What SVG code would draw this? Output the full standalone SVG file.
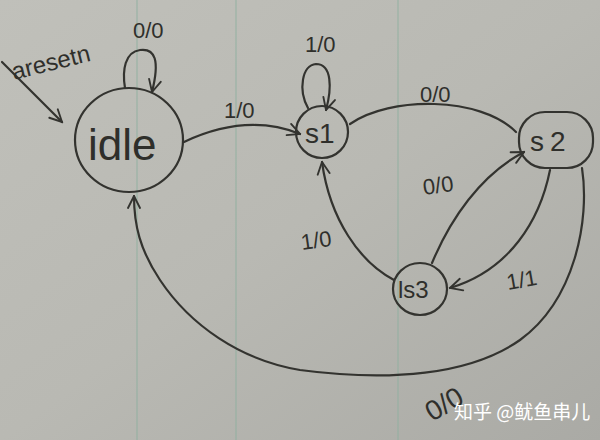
<svg xmlns="http://www.w3.org/2000/svg" width="600" height="440" viewBox="0 0 600 440">
<defs>
<linearGradient id="paper" x1="0" y1="0" x2="1" y2="1">
<stop offset="0" stop-color="#c0c0ba"/>
<stop offset="0.5" stop-color="#b9b9b3"/>
<stop offset="1" stop-color="#aaaaa5"/>
</linearGradient>
<marker id="arr" viewBox="0 0 20 20" refX="18" refY="10" markerWidth="15" markerHeight="15" markerUnits="userSpaceOnUse" orient="auto">
<path d="M2,2 L18,10 L2,18" fill="none" stroke="#33332f" stroke-width="2.5" stroke-linecap="round"/>
</marker>
<style>
.s{fill:none;stroke:#33332f;stroke-width:2.2;stroke-linecap:round;stroke-linejoin:round}
.t{font-family:"Liberation Sans","DejaVu Sans",sans-serif;fill:#2f2f2b}
.rule{stroke:#8fb0a0;stroke-width:2;opacity:0.45}
</style>
</defs>
<rect width="600" height="440" fill="url(#paper)"/>
<line class="rule" x1="137" y1="0" x2="137" y2="440"/>
<line class="rule" x1="236" y1="0" x2="236" y2="440" opacity="0.3"/>
<line class="rule" x1="398" y1="0" x2="398" y2="440" opacity="0.25"/>

<g id="connectors">
<!-- reset arrow -->
<path class="s" d="M2,62 Q30,90 62,122" marker-end="url(#arr)"/>
<text class="t" x="14" y="80" font-size="24" transform="rotate(-14 14 80)">aresetn</text>
<!-- idle self loop -->
<path class="s" d="M125,88 C122,70 125,52 140,50 C155,48 160,60 152,92" marker-end="url(#arr)"/>
<text class="t" x="133" y="38" font-size="22">0/0</text>
<!-- idle -> s1 -->
<path class="s" d="M184,142 C220,125 260,118 300,134" marker-end="url(#arr)"/>
<text class="t" x="224" y="118" font-size="22">1/0</text>
<!-- s1 self loop -->
<path class="s" d="M308,108 C298,90 302,65 316,64 C332,64 332,88 326,110" marker-end="url(#arr)"/>
<text class="t" x="305" y="52" font-size="22">1/0</text>
<!-- s1 -> s2 -->
<path class="s" d="M350,124 C390,96 480,96 516,132"/>
<text class="t" x="420" y="102" font-size="22">0/0</text>
<!-- s3 -> s2 -->
<path class="s" d="M432,263 C450,220 480,175 524,152" marker-end="url(#arr)"/>
<text class="t" x="424" y="195" font-size="22" transform="rotate(-8 424 195)">0/0</text>
<!-- s2 -> s3 -->
<path class="s" d="M550,170 C540,220 510,270 450,288" marker-end="url(#arr)"/>
<text class="t" x="508" y="290" font-size="22" transform="rotate(-10 508 290)">1/1</text>
<!-- s3 -> s1 -->
<path class="s" d="M394,280 C360,262 330,220 322,162" marker-end="url(#arr)"/>
<text class="t" x="302" y="250" font-size="22" transform="rotate(-8 302 250)">1/0</text>
<!-- s2 -> idle -->
<path class="s" d="M582,168 C590,220 575,300 520,340 C470,375 390,382 300,370 C240,360 190,325 160,280 C140,250 134,225 134,196" marker-end="url(#arr)"/>
<text class="t" x="432" y="422" font-size="28" transform="rotate(-30 432 422)">0/0</text>
</g>

<g id="idle">
<ellipse class="s" cx="129" cy="140" rx="54" ry="52"/>
<text class="t" x="88" y="160" font-size="44">idle</text>
</g>
<g id="s1">
<ellipse class="s" cx="322" cy="132" rx="26" ry="26"/>
<text class="t" x="305" y="143" font-size="28">s1</text>
</g>
<g id="s2">
<rect class="s" x="519" y="112" width="74" height="56" rx="26"/>
<text class="t" x="530" y="151" font-size="28" letter-spacing="6">s2</text>
</g>
<g id="s3">
<ellipse class="s" cx="420" cy="289" rx="27" ry="26"/>
<text class="t" x="398" y="298" font-size="24">ls3</text>
</g>
<text x="454" y="419" font-family="'Noto Sans CJK SC',sans-serif" font-size="19" fill="#ffffff">知乎 @鱿鱼串儿</text>
</svg>
